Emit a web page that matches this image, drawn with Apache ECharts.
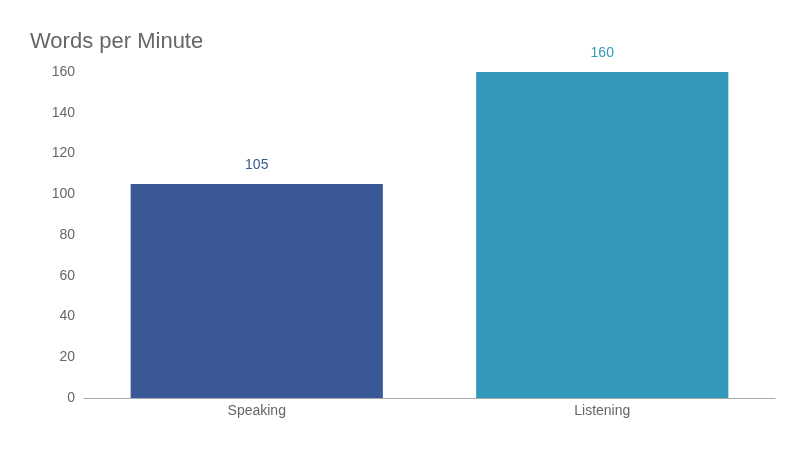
<!DOCTYPE html>
<html><head><meta charset="utf-8">
<script src="https://cdn.jsdelivr.net/npm/echarts@6/dist/echarts.min.js"></script>
<style>html,body{margin:0;padding:0;background:#fff}#c{width:800px;height:450px}</style>
</head><body><div id="c"></div>
<script>
const categories = ["Speaking", "Listening"];
const values = [105, 160];
const colors = ["#3b5897", "#3399bb"];
const chart = echarts.init(document.getElementById('c'));
chart.setOption({
  animation: false,
  title: { text: "Words per Minute", left: 25, top: 26, textStyle: { fontFamily: "Liberation Sans, Arial", fontSize: 22, fontWeight: "normal", color: "#666" } },
  grid: { left: 84, right: 25, top: 72, bottom: 52 },
  xAxis: { type: "category", data: categories, axisTick: { show: false }, axisLine: { lineStyle: { color: "#aaa" } },
    axisLabel: { color: "#666", fontSize: 14, fontFamily: "Liberation Sans, Arial", margin: 6 } },
  yAxis: { type: "value", min: 0, max: 160, interval: 20, splitLine: { show: false }, axisLine: { show: false }, axisTick: { show: false },
    axisLabel: { color: "#666", fontSize: 14, fontFamily: "Liberation Sans, Arial", margin: 9 } },
  series: [{ type: "bar", barWidth: "73%",
    data: values.map((v, i) => ({ value: v, itemStyle: { color: colors[i] }, label: { color: colors[i] } })),
    label: { show: true, position: "top", distance: 12, fontSize: 14, fontFamily: "Liberation Sans, Arial" } }]
});
</script></body></html>
